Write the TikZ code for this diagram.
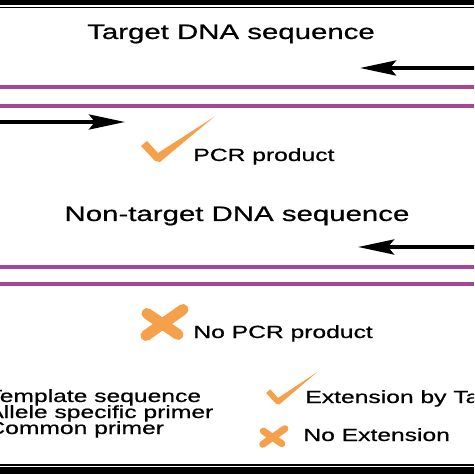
\documentclass[tikz,border=0pt]{standalone}
\usepackage{fontspec}
\newfontfamily\labelfont[FakeStretch=1.4, FakeBold=0.7]{Liberation Sans}
\usetikzlibrary{arrows.meta}
\definecolor{strandpink}{RGB}{168,70,150}
\definecolor{markorange}{RGB}{245,160,75}
\tikzset{
  strand/.style={draw=strandpink, line width=2pt},
  primer/.style={draw=black, line width=2pt, -{Stealth[length=18pt, width=7.5pt, inset=3pt]}},
  heading/.style={font=\labelfont\fontsize{10.5}{12}\selectfont, anchor=base, inner sep=0pt},
  legend/.style={font=\labelfont\fontsize{8.8}{10}\selectfont, anchor=base west, inner sep=0pt},
  okmark/.pic={\fill[markorange] (-17,-14) -- (-11,-19) -- (0,-7) -- (56,-43) -- (2,2) -- (-3,1) -- cycle;},
  nomark/.pic={\draw[markorange, line cap=round] (19,-13) -- (-18,13) (-17,-9) -- (14,12);}
}
\begin{document}
\begin{tikzpicture}[x=0.5pt, y=-0.5pt]
    \useasboundingbox (0,0) rectangle (474,474);
    \clip (0,0) rectangle (474,474);

    % Frame bands
    \fill (0,0) rectangle (474,5.5);
    \fill (0,7) rectangle (474,8.5);
    \fill (0,464) rectangle (474,465.5);
    \fill (0,467) rectangle (474,474);

    % Target DNA
    \node[heading] (target) at (231,39) {Target DNA sequence};
    \coordinate (t1) at (480,68);
    \coordinate (t1tip) at (360,68);
    \draw[primer] (t1) -- (t1tip);
    \draw[strand] (0,87) -- (474,87);
    \draw[strand] (0,106) -- (474,106);
    \coordinate (t2) at (-5,122);
    \coordinate (t2tip) at (125,122);
    \draw[primer] (t2) -- (t2tip);
    \pic at (158,160) {okmark};
    \node[legend] (pcr) at (193,161) {PCR product};

    % Non-target DNA
    \node[heading] (nontarget) at (237,221) {Non-target DNA sequence};
    \coordinate (n1) at (480,247);
    \coordinate (n1tip) at (358,247);
    \draw[primer] (n1) -- (n1tip);
    \draw[strand] (0,267) -- (474,267);
    \draw[strand] (0,284) -- (474,284);
    \pic[line width=5.5pt] at (164,322.5) {nomark};
    \node[legend] (nopcr) at (193,338) {No PCR product};

    % Legend
    \node[legend] (template) at (-13,402) {Template sequence};
    \node[legend] (allele) at (-13,418) {Allele specific primer};
    \node[legend] (common) at (-13,434) {Common primer};
    \pic[xscale=0.7, yscale=0.72] at (278,403) {okmark};
    \node[legend] (ext) at (305,403) {Extension by Ta};
    \pic[scale=0.6, line width=3.5pt] at (273.5,436.5) {nomark};
    \node[legend] (noext) at (303,441) {No Extension};
\end{tikzpicture}
\end{document}
